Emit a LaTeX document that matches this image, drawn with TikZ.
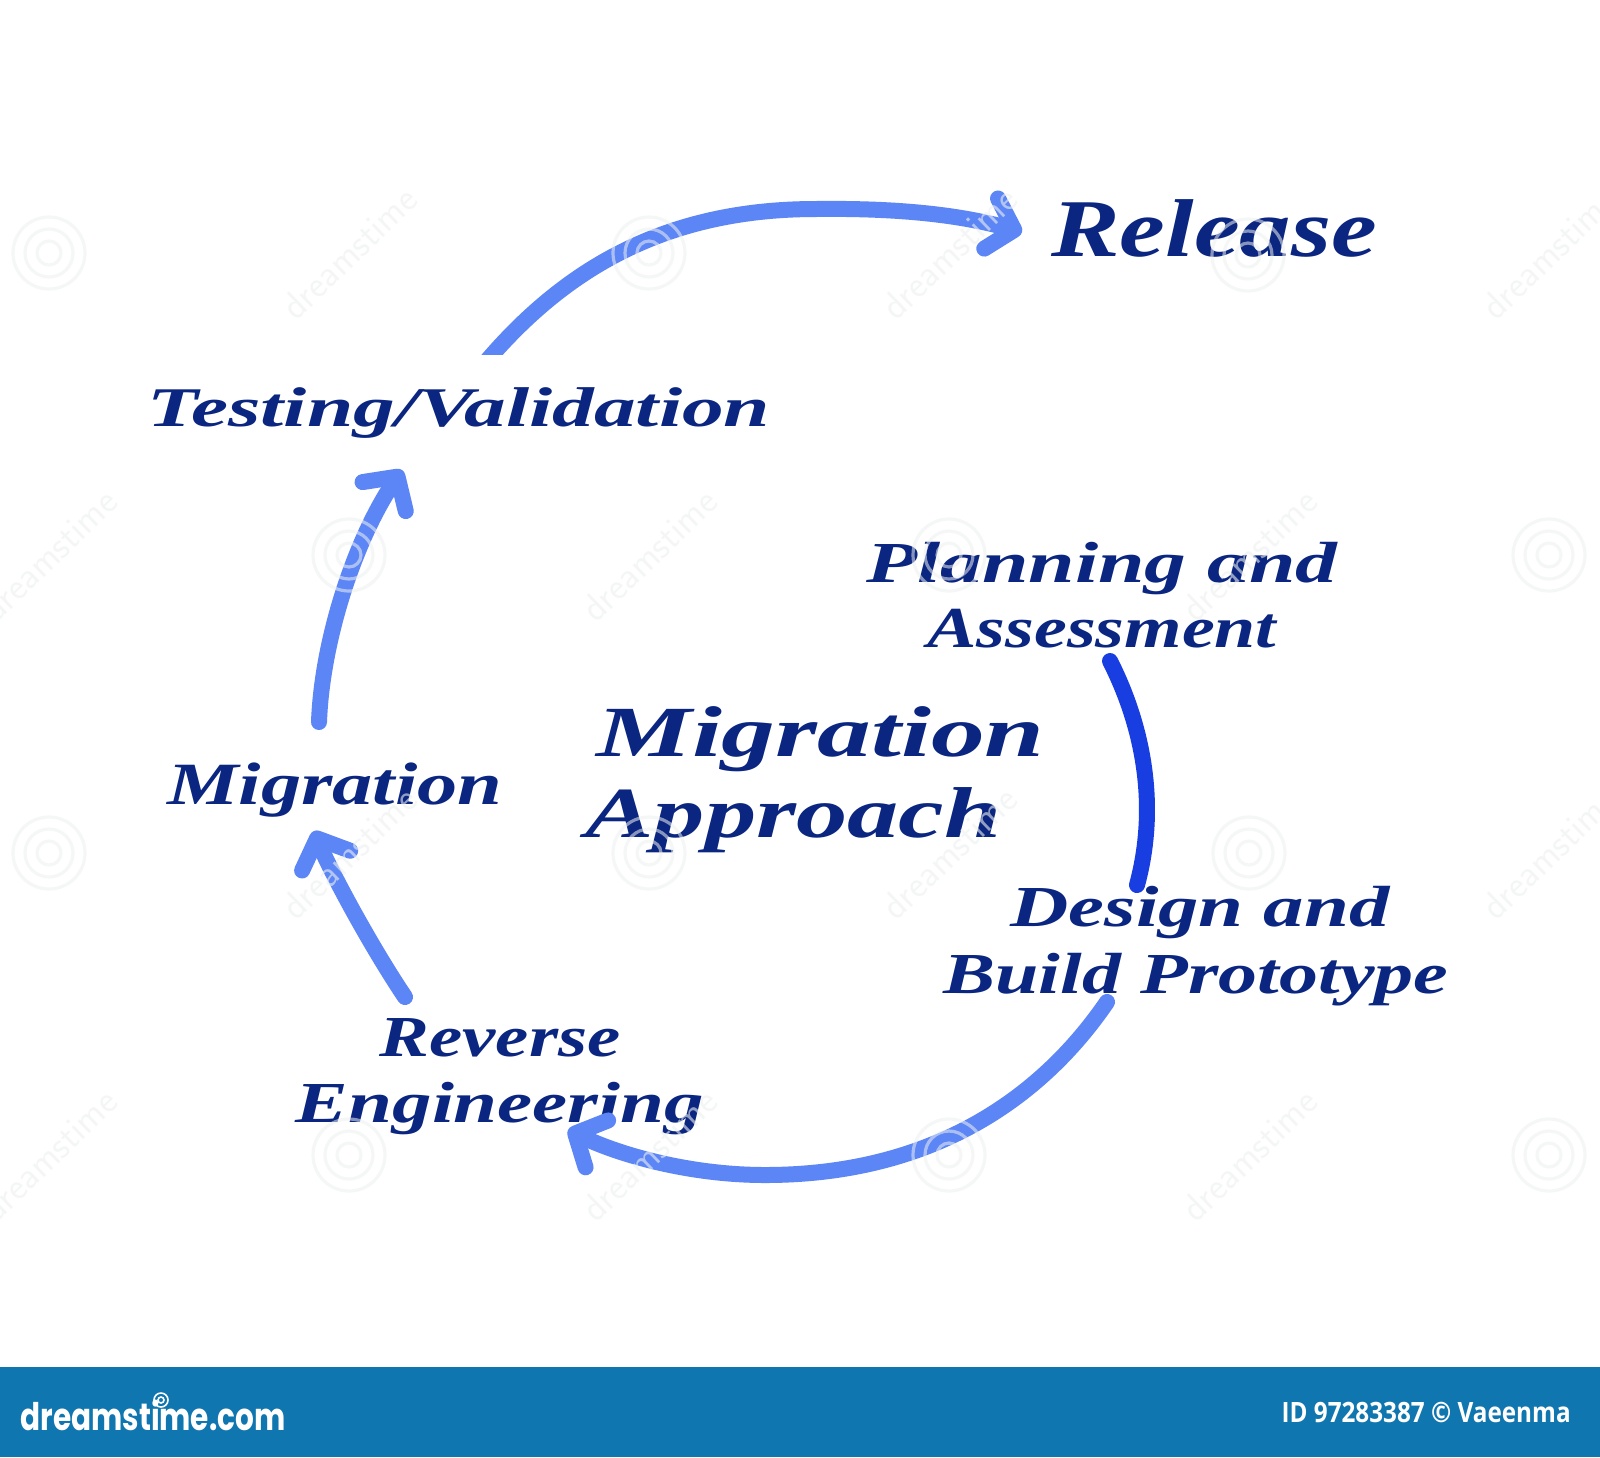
\documentclass[tikz,border=0pt]{standalone}
\usepackage{fontspec}
\usepackage{graphicx}
\usetikzlibrary{arrows.meta,calc}
\newfontfamily\hand{Liberation Serif}
\newfontfamily\barsans{Open Sans}
\newfontfamily\logofont{Poppins}
\definecolor{inkblue}{RGB}{10,38,128}
\definecolor{lightarrow}{RGB}{92,133,245}
\definecolor{darkarrow}{RGB}{24,62,226}
\definecolor{barblue}{RGB}{15,118,175}
\definecolor{wm}{RGB}{238,240,240}
\newcommand{\fitw}[2]{\resizebox{\dimexpr #1pt/2\relax}{\height}{#2}}
\newcommand{\handfont}[2]{\hand\bfseries\itshape\fontsize{#1}{#2}\selectfont}
\tikzset{
  label/.style={inner sep=0pt,outer sep=0pt,text=inkblue,align=center},
  flow/.style={draw=lightarrow,line width=8pt,line cap=round,line join=round},
  flowhead/.style={-{Straight Barb[length=12pt,width=26pt,round]}},
  wmring/.style={draw=wm,opacity=0.55,line width=1.6pt},
  wmtext/.style={text=wm,text opacity=0.6,rotate=44,font=\sffamily\fontsize{19}{19}\selectfont,inner sep=0pt}
}
\begin{document}
\begin{tikzpicture}[x=0.5pt,y=-0.5pt]
\useasboundingbox (0,0) rectangle (1600,1457);
\fill[white] (0,0) rectangle (1600,1457);
% labels
\node[label,font=\handfont{41}{45}] (release) at (1214,228) {\fitw{326}{Release}};
\node[label,font=\handfont{28}{32}] (testing) at (459,413) {\fitw{622}{Testing/Validation}};
\node[label,font=\handfont{29}{32.5}] (plan) at (1102,595) {\fitw{471}{Planning and}\\\fitw{349}{Assessment}};
\node[label,font=\handfont{36}{40.5},align=left] (central) at (815,780) {\hspace*{5.5pt}\fitw{448}{Migration}\\\fitw{416}{Approach}};
\node[label,font=\handfont{30}{34}] (migration) at (335,790) {\fitw{335}{Migration}};
\node[label,font=\handfont{29}{33.5}] (design) at (1196,946) {\hspace*{4pt}\fitw{379}{Design and}\\\fitw{505}{Build Prototype}};
\node[label,font=\handfont{29}{33}] (reverse) at (500,1077) {\fitw{241}{Reverse}\\\fitw{408}{Engineering}};
% connectors
\draw[flow,draw=darkarrow]
  ($(plan.center)+(8,66)$) .. controls ($(plan.center)+(38,125)$) and ($(plan.center)+(58,205)$) .. ($(design.center)+(-59,-61)$);
\draw[flow,flowhead]
  ($(design.center)+(-89,56)$) .. controls ($(design.center)+(-156,154)$) and ($(design.center)+(-266,229)$) .. ($(design.center)+(-431,229)$)
  .. controls ($(reverse.center)+(190,98)$) and ($(reverse.center)+(120,78)$) .. ($(reverse.center)+(68,53)$);
\draw[flow,flowhead]
  ($(reverse.center)+(-95,-80)$) .. controls ($(reverse.center)+(-130,-132)$) and ($(migration.center)+(-5,80)$) .. ($(migration.center)+(-21,41)$);
\draw[flow,flowhead]
  ($(migration.center)+(-16,-68)$) .. controls ($(migration.center)+(-13,-150)$) and ($(testing.center)+(-104,127)$) .. ($(testing.center)+(-57,57)$);
\begin{scope}
  \clip ($(testing.center)+(-459,-59)$) rectangle ($(testing.center)+(1141,-413)$);
  \draw[flow,flowhead,line cap=butt]
    ($(testing.center)+(26,-50)$) .. controls ($(testing.center)+(105,-143)$) and ($(testing.center)+(205,-204)$) .. ($(testing.center)+(357,-204)$)
    .. controls ($(release.center)+(-314,-20)$) and ($(release.center)+(-254,-13)$) .. ($(release.center)+(-192,4)$);
\end{scope}
% watermark over the drawing
\foreach \wx/\wy in {49/253,649/253,1248/255,349/555,949/555,1549/555,49/853,649/853,1249/853,349/1155,949/1155,1549/1155}{
  \foreach \r in {12,24,36}{\draw[wmring] (\wx,\wy) circle (\r);}
}
\foreach \wx/\wy in {349/253,949/253,1549/253,49/555,649/555,1249/555,349/853,949/853,1549/853,49/1155,649/1155,1249/1155}{
  \node[wmtext] (wm\wx\wy) at (\wx,\wy) {dreamstime};
}
% bottom band
\fill[barblue] (0,1367) rectangle (1600,1457);
\node[inner sep=0pt,anchor=base west,text=white,font=\logofont\bfseries\fontsize{19}{19}\selectfont] (logo) at (20,1430) {\fitw{265}{dreamstime.com}};
\draw[white,line width=0.8pt] (161,1400) circle (7);
\draw[white,line width=0.8pt] (161,1400) circle (3);
\node[inner sep=0pt,anchor=base east,text=white,font=\barsans\bfseries\fontsize{14}{14}\selectfont] (credit) at (1571,1422) {\fitw{289}{ID 97283387 © Vaeenma}};
\end{tikzpicture}
\end{document}
